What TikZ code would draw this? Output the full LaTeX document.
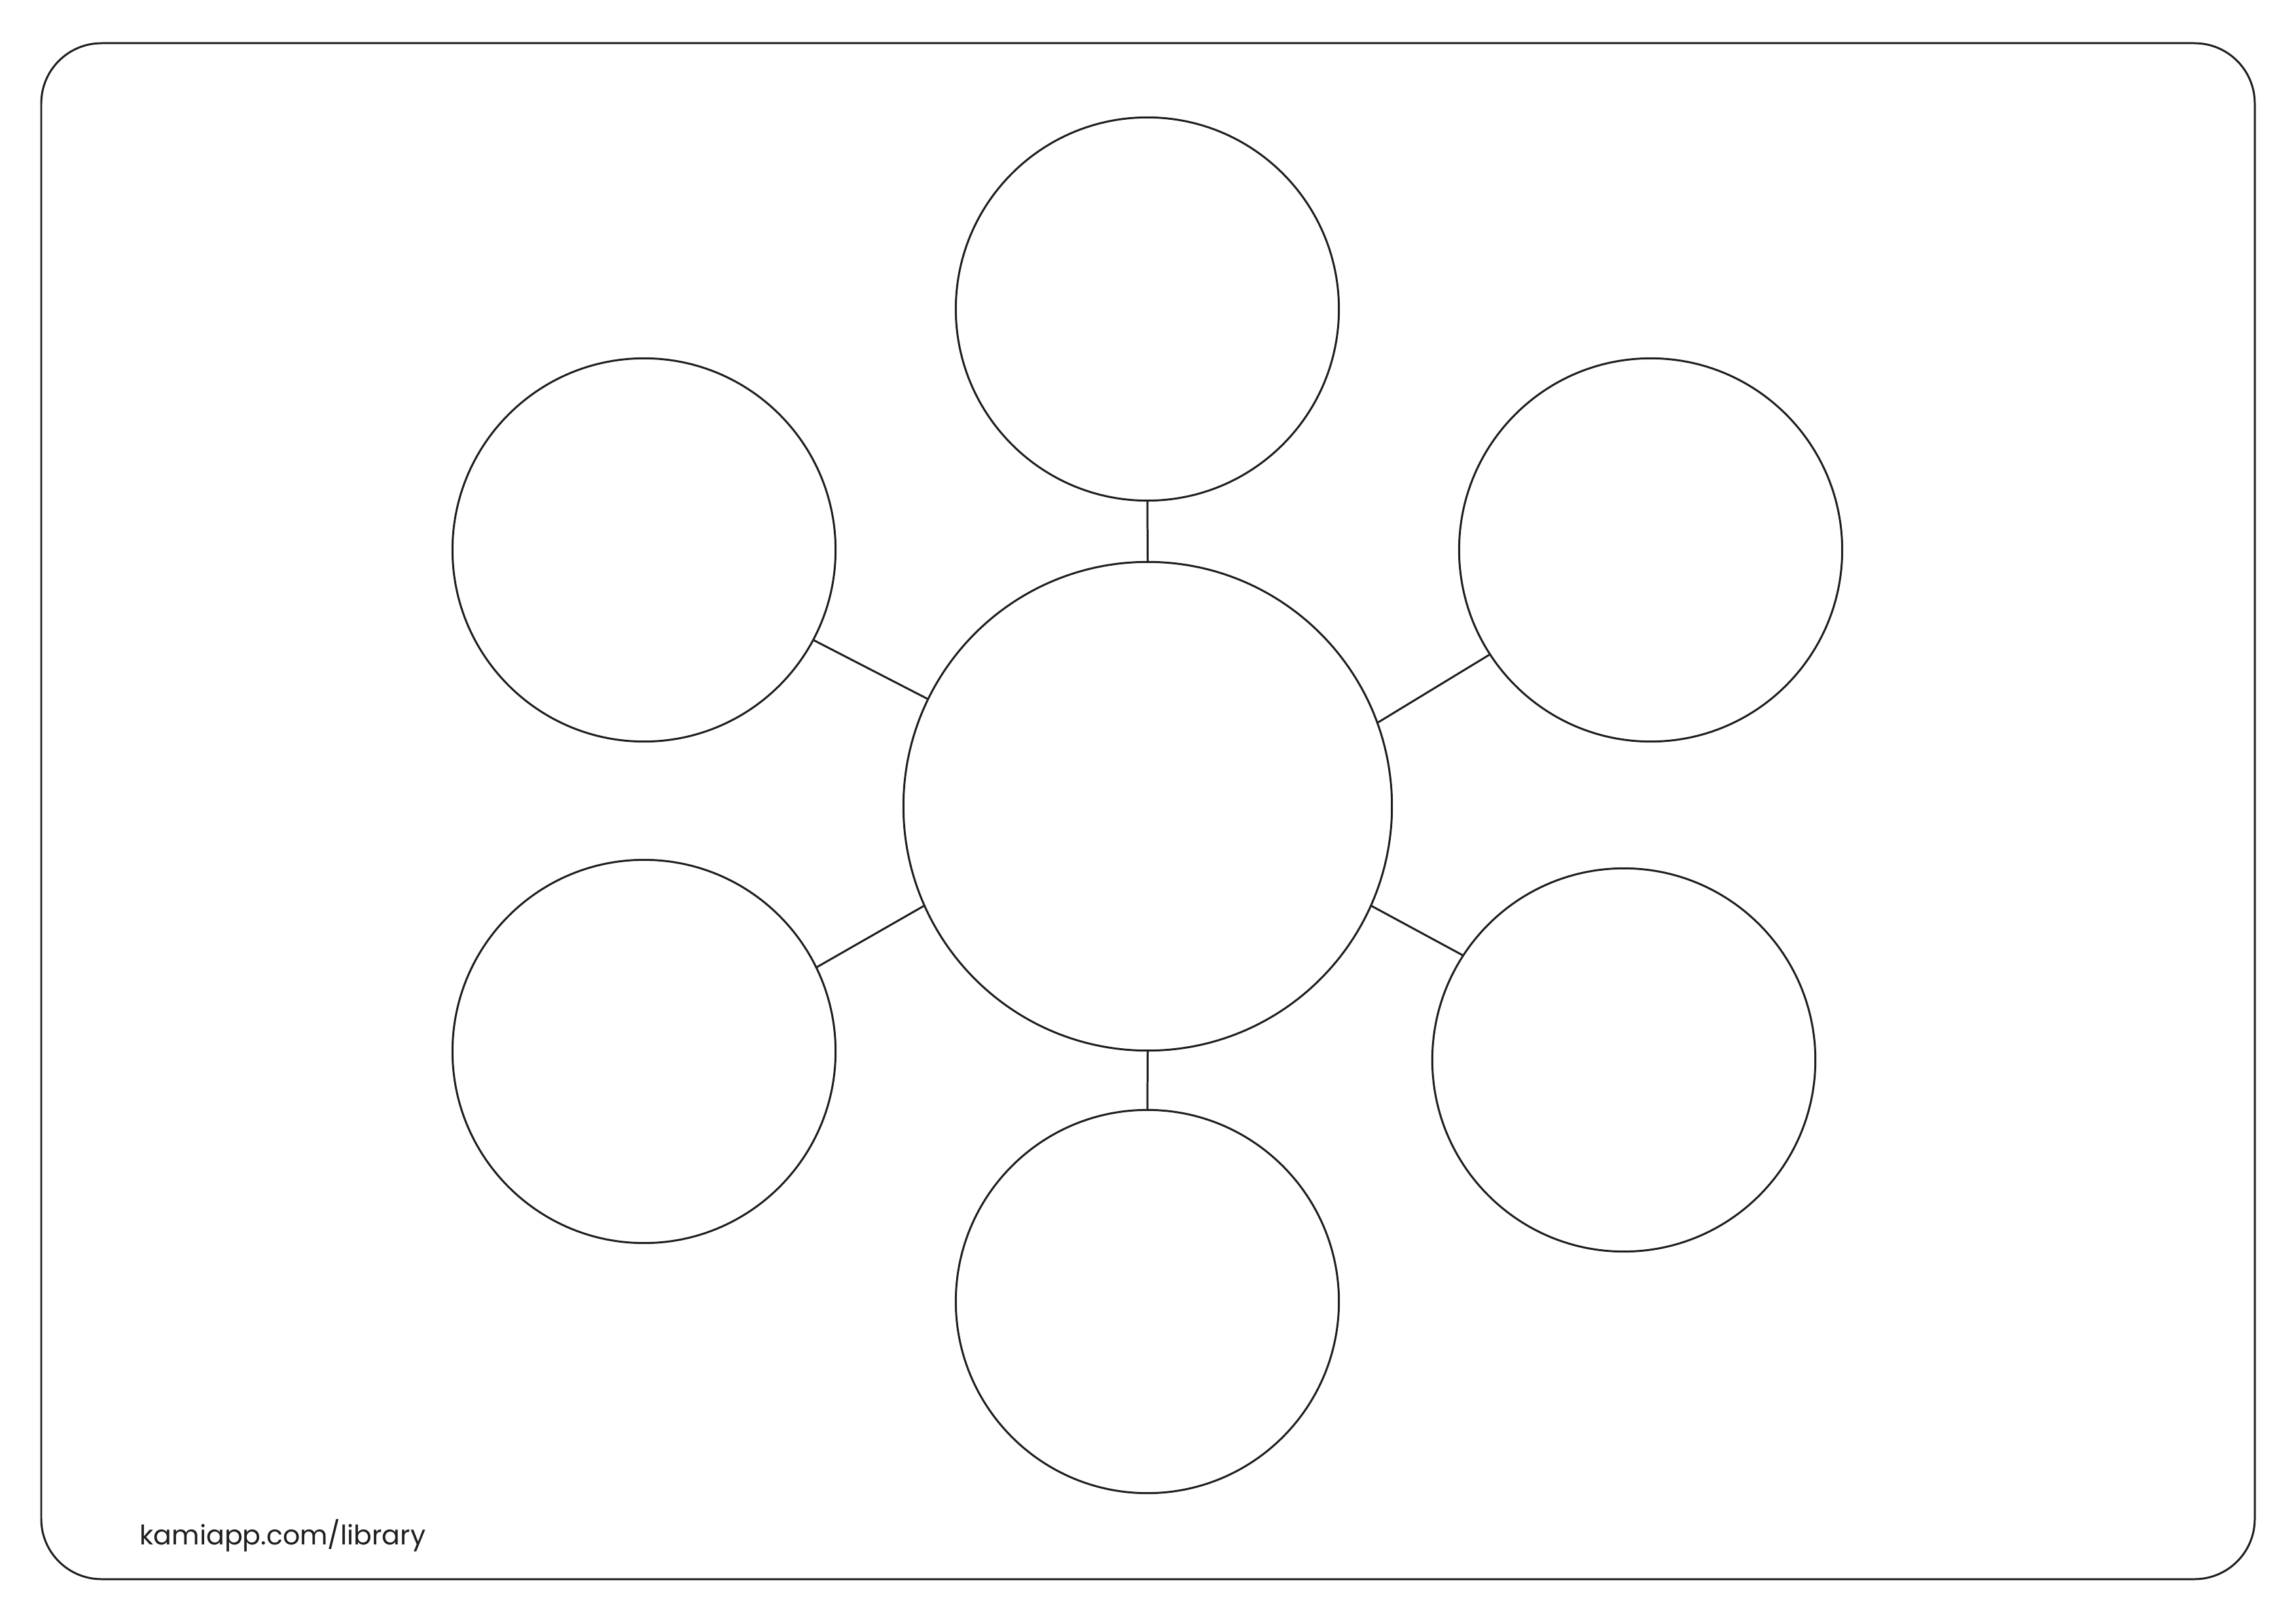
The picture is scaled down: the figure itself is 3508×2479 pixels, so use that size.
\documentclass[tikz,border=0pt]{standalone}
\usepackage{fontspec}
\setmainfont{Poppins}
\definecolor{ink}{RGB}{30,30,30}
\begin{document}
\begin{tikzpicture}[x=0.01cm,y=-0.01cm,
  ln/.style={draw=ink,line width=0.85pt},
  sat/.style={ln,circle,inner sep=0pt,minimum size=5.85cm},
  hub/.style={ln,circle,inner sep=0pt,minimum size=7.46cm},
  link/.style={draw=ink,line width=0.85pt}]
\useasboundingbox (0,0) rectangle (3508,2479);
\draw[ln,rounded corners=0.92cm] (63,66) rectangle (3445,2412);
\node[hub] (c) at (1753.5,1231.5) {};
\node[sat] (t) at (1753,472) {};
\node[sat] (ul) at (984,840) {};
\node[sat] (ur) at (2522,840) {};
\node[sat] (ll) at (984,1606) {};
\node[sat] (lr) at (2481,1619) {};
\node[sat] (b) at (1753,1988) {};
\draw[link] (c.north) -- (t.south);
\draw[link] (c.south) -- (b.north);
\draw[link] (c.154.1) -- (ul.332.1);
\draw[link] (c.20.6) -- (ur.213.3);
\draw[link] (c.204.8) -- (ll.26.7);
\draw[link] (c.336.5) -- (lr.147.8);
\node[anchor=base west,inner sep=0pt,text=ink,font=\fontsize{11.7pt}{13pt}\selectfont] (url) at (213,2359) {kamiapp.com/library};
\end{tikzpicture}
\end{document}
